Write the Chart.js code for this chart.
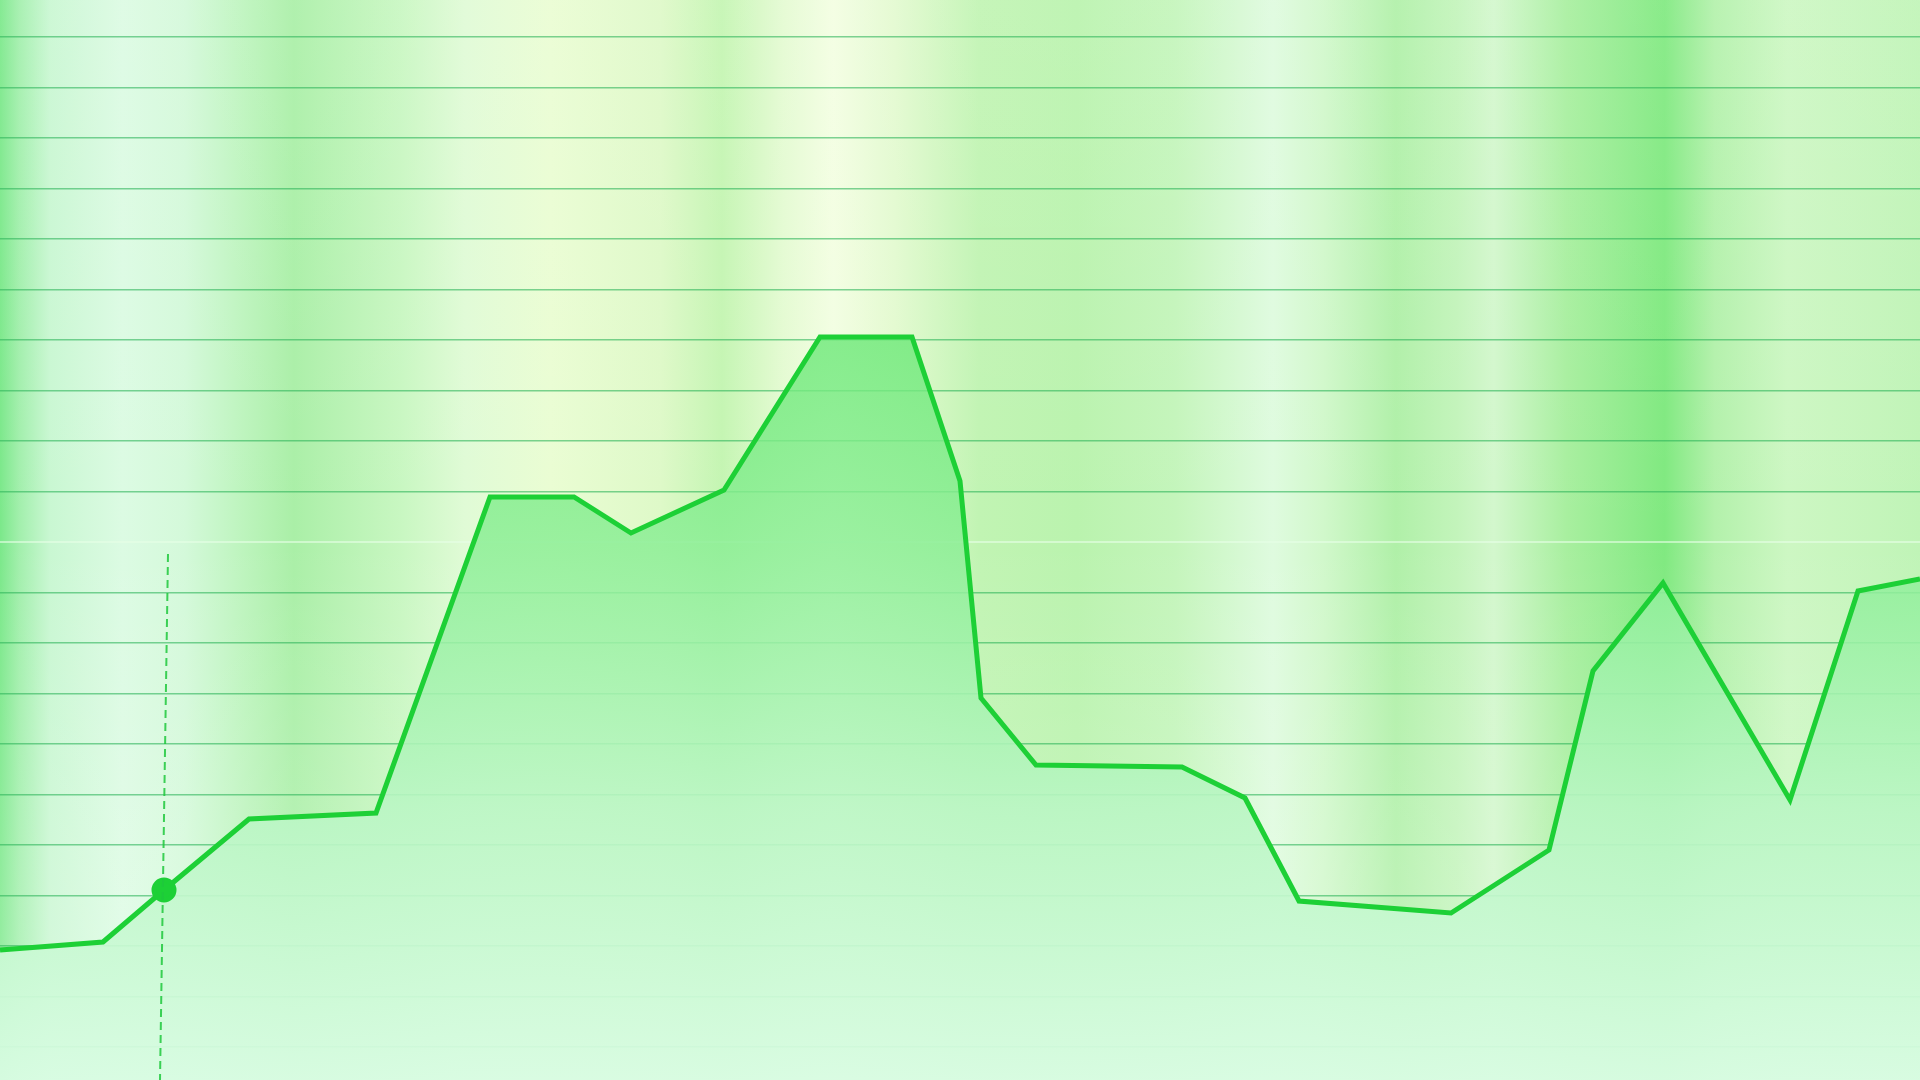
<!DOCTYPE html>
<html>
<head>
<meta charset="utf-8">
<script src="https://cdn.jsdelivr.net/npm/chart.js@4.4.1/dist/chart.umd.min.js"></script>
<style>
  html, body { margin: 0; padding: 0; background: #c8f5c4; overflow: hidden; }
  #wrap { position: relative; width: 1920px; height: 1080px; }
</style>
</head>
<body>
<div id="wrap"><canvas id="growthChart"></canvas></div>
<script>
// data (x = horizontal position, y = level above the bottom)
const xPositions = [0, 103, 164, 249, 376, 490, 574, 631, 724, 820, 912, 960, 981, 1036, 1182, 1245, 1299, 1451, 1549, 1593, 1663, 1790, 1858, 1920];
const levels = [130, 138, 190, 261, 267, 583, 583, 547, 590, 743, 743, 599, 382, 315, 313, 282, 179, 167, 230, 409, 497, 280, 489, 501];
const markerIndex = 2;
const gridLevels = [1043, 992.5, 942, 891.5, 841, 790.5, 740, 689.5, 639, 588.5, 538, 487.5, 437, 386.5, 336, 285.5, 235, 184.5, 134, 83.5, 33];
const brightGridLevel = 538;

// vertical light bands behind the chart
const bandStops = [
    [0.000, '#7be88a'], [0.010, '#a2efac'], [0.026, '#c9f7d2'], [0.064, '#dcfbe3'],
    [0.096, '#d4f9da'], [0.128, '#bcf4bc'], [0.153, '#aaefa7'], [0.210, '#c9f7c2'],
    [0.242, '#e0fbd6'], [0.287, '#eafdd3'], [0.344, '#def9c8'], [0.376, '#c4f5b2'],
    [0.408, '#e4fbd2'], [0.434, '#f3fee2'], [0.466, '#e3fad0'], [0.510, '#c1f4b3'],
    [0.561, '#baf3ae'], [0.612, '#c4f5bb'], [0.663, '#dffbdf'], [0.689, '#d1f8cb'],
    [0.727, '#b0f0a8'], [0.759, '#c3f4bb'], [0.778, '#d3f7cd'], [0.816, '#a8ef9f'],
    [0.867, '#80e980'], [0.893, '#b3f1ab'], [0.931, '#cdf7c3'], [1.000, '#c0f4b7']
];

const backdrop = {
    id: 'backdrop',
    beforeDraw(chart) {
        const { ctx, width, height } = chart;
        ctx.save();
        const g = ctx.createLinearGradient(0, 0, width, 0);
        bandStops.forEach(s => g.addColorStop(s[0], s[1]));
        ctx.fillStyle = g;
        ctx.fillRect(0, 0, width, height);
        const v = ctx.createLinearGradient(0, 0, 0, height);
        v.addColorStop(0, 'rgba(255,255,255,0.08)');
        v.addColorStop(0.5, 'rgba(255,255,255,0.0)');
        v.addColorStop(1, 'rgba(255,255,255,0.25)');
        ctx.fillStyle = v;
        ctx.fillRect(0, 0, width, height);
        ctx.restore();
    }
};

const markerGuide = {
    id: 'markerGuide',
    afterDatasetsDraw(chart) {
        const { ctx, scales } = chart;
        const px = scales.x.getPixelForValue(xPositions[markerIndex]);
        const top = scales.y.getPixelForValue(brightGridLevel) + 12;
        ctx.save();
        ctx.strokeStyle = 'rgba(30,200,60,0.85)';
        ctx.lineWidth = 2;
        ctx.setLineDash([8, 5]);
        ctx.beginPath();
        ctx.moveTo(px + 4, top);
        ctx.lineTo(px - 4, chart.height);
        ctx.stroke();
        ctx.restore();
    }
};

const ctx = document.getElementById('growthChart').getContext('2d');
new Chart(ctx, {
    type: 'line',
    data: {
        datasets: [{
            data: xPositions.map((x, i) => ({ x: x, y: levels[i] })),
            borderColor: '#1dd036',
            borderWidth: 5,
            tension: 0,
            fill: 'start',
            backgroundColor: (c) => {
                const area = c.chart.chartArea;
                if (!area) return 'rgba(150,240,160,0.8)';
                const g = c.chart.ctx.createLinearGradient(0, area.top, 0, area.bottom);
                g.addColorStop(0.30, 'rgba(106,232,118,0.80)');
                g.addColorStop(0.50, 'rgba(138,238,148,0.84)');
                g.addColorStop(0.75, 'rgba(186,246,196,0.90)');
                g.addColorStop(1.00, 'rgba(216,252,226,0.95)');
                return g;
            },
            pointRadius: (c) => c.dataIndex === markerIndex ? 10 : 0,
            pointBackgroundColor: '#1dd036',
            pointBorderColor: '#1dd036',
            pointHoverRadius: 0
        }]
    },
    options: {
        responsive: true,
        maintainAspectRatio: false,
        animation: false,
        layout: { padding: 0 },
        plugins: {
            legend: { display: false },
            tooltip: { enabled: false }
        },
        scales: {
            x: {
                type: 'linear',
                min: 0,
                max: 1920,
                display: false
            },
            y: {
                min: 0,
                max: 1080,
                border: { display: false },
                ticks: { display: false },
                afterBuildTicks: (scale) => {
                    scale.ticks = gridLevels.map(v => ({ value: v }));
                },
                grid: {
                    drawTicks: false,
                    lineWidth: (c) => c.tick && c.tick.value === brightGridLevel ? 2 : 1.5,
                    color: (c) => c.tick && c.tick.value === brightGridLevel
                        ? 'rgba(230,255,230,0.6)'
                        : 'rgba(45,180,90,0.6)'
                }
            }
        }
    },
    plugins: [backdrop, markerGuide]
});
</script>
</body>
</html>
